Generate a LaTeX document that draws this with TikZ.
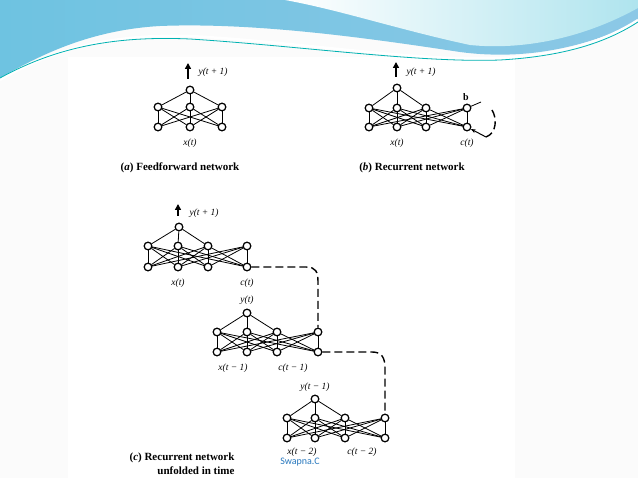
\documentclass[tikz,border=0pt]{standalone}
\usepackage{fontspec}
\setmainfont{Liberation Serif}
\newfontfamily\swfont{Carlito}
\usetikzlibrary{arrows.meta}
\definecolor{skyA}{RGB}{110,195,225}
\definecolor{skyB}{RGB}{140,200,230}
\definecolor{skyC}{RGB}{175,228,238}
\definecolor{swcol}{RGB}{40,120,190}
\tikzset{
  neuron/.style={circle,draw,line width=1.1pt,fill=white,minimum size=7.5pt,inner sep=0pt},
  lab/.style={font=\fontsize{9.5}{10}\selectfont\itshape},
  captext/.style={font=\fontsize{11}{12}\selectfont\bfseries},
  wire/.style={line width=0.8pt},
  fb/.style={line width=1.4pt,dash pattern=on 8pt off 4pt},
  outarrow/.style={line width=1.6pt,shorten <=11pt,-{Triangle[length=6pt,width=6pt]}}
}
\begin{document}
\begin{tikzpicture}[x=1pt,y=-1pt]
\useasboundingbox (0,0) rectangle (638,478);
\fill[gray!3] (0,0) rectangle (638,478);
\fill[white] (68,57) rectangle (515,478);
% header swoosh
\shade[left color=skyA,right color=skyB] (0,0) -- (638,0) -- (638,22) .. controls (580,50) and (520,60) .. (460,52) .. controls (380,40) and (260,22) .. (160,26) .. controls (90,30) and (40,55) .. (0,78) -- cycle;
\shade[left color=white,right color=skyC] (285,0) -- (638,0) -- (638,8) .. controls (580,40) and (520,50) .. (470,45) .. controls (400,30) and (340,10) .. (285,0) -- cycle;
\draw[white,line width=2.5pt] (0,80) .. controls (60,45) and (120,34) .. (190,36) .. controls (300,42) and (420,62) .. (500,58) .. controls (570,54) and (610,38) .. (638,20);
\draw[teal!60!cyan,line width=0.8pt] (0,78) .. controls (60,45) and (120,36) .. (190,39) .. controls (300,46) and (420,63) .. (500,60) .. controls (570,56) and (610,40) .. (638,22);
% (a)
\node[neuron] (at) at (190,90) {};
\foreach \i/\x in {1/158,2/190,3/222}{\node[neuron] (ah\i) at (\x,107) {};\node[neuron] (ai\i) at (\x,127) {};}
\foreach \i in {1,2,3}{\draw[wire] (at)--(ah\i); \foreach \j in {1,2,3}{\draw[wire] (ah\i)--(ai\j);}}
\foreach \i in {1,2,3}{\node[neuron] at (ah\i) {};\node[neuron] at (ai\i) {};}
\node[neuron] at (at) {};
\coordinate (ao) at (188,63);
\draw[outarrow] (at.center -| ao)--(ao);
\node[lab,anchor=west] (ay) at (195,72) {y(t + 1)};
\node[lab] (ax) at (190,143) {x(t)};
\node[captext] (ac) at (180,168) {(\textit{a}) Feedforward network};
% (b)
\node[neuron] (bt) at (397,88) {};
\foreach \i/\x in {1/369,2/397,3/426,4/467}{\node[neuron] (bh\i) at (\x,108) {};\node[neuron] (bi\i) at (\x,127) {};}
\foreach \i in {1,2,3}{\draw[wire] (bt)--(bh\i);}
\foreach \i in {1,...,4}{\foreach \j in {1,...,4}{\draw[wire] (bh\i)--(bi\j);}}
\foreach \i in {1,...,4}{\node[neuron] at (bh\i) {};\node[neuron] at (bi\i) {};}
\node[neuron] at (bt) {};
\coordinate (bo) at (396,62);
\draw[outarrow] (bt.center -| bo)--(bo);
\node[lab,anchor=west] (by) at (403,72) {y(t + 1)};
\node[font=\fontsize{10}{10}\selectfont\bfseries] (bb) at (466,97) {b};
\coordinate (b1) at (481,102);
\draw[wire] (bh4)--(b1);
\coordinate (b2) at (492,110);
\coordinate (b3) at (486,137);
\draw[fb] (b2) .. controls (497,118) and (497,133) .. (b3);
\draw[line width=1pt,-{Stealth[length=5pt]}] (b3) -- (bi4);
\node[lab] (bx) at (397,143) {x(t)};
\node[lab] (bc) at (467,143) {c(t)};
\node[captext] (bcap) at (412,168) {(\textit{b}) Recurrent network};
% (c) net 1
\node[neuron] (pt) at (179,227) {};
\foreach \i/\x in {1/148,2/178,3/208,4/247}{\node[neuron] (ph\i) at (\x,246) {};\node[neuron] (pi\i) at (\x,267) {};}
% net 2
\node[neuron] (qt) at (247,313) {};
\foreach \i/\x in {1/217,2/247,3/277,4/318}{\node[neuron] (qh\i) at (\x,332) {};\node[neuron] (qi\i) at (\x,352) {};}
% net 3
\node[neuron] (rt) at (315,399) {};
\foreach \i/\x in {1/287,2/315,3/345,4/385}{\node[neuron] (rh\i) at (\x,418) {};\node[neuron] (ri\i) at (\x,438) {};}
\foreach \n in {p,q,r}{
  \foreach \i in {1,2,3}{\draw[wire] (\n t)--(\n h\i);}
  \foreach \i in {1,...,4}{\foreach \j in {1,...,4}{\draw[wire] (\n h\i)--(\n i\j);}}
  \foreach \i in {1,...,4}{\node[neuron] at (\n h\i) {};\node[neuron] at (\n i\i) {};}
  \node[neuron] at (\n t) {};
}
\coordinate (po) at (178,204);
\draw[outarrow] (pt.center -| po)--(po);
\node[lab,anchor=west] (py) at (186,213) {y(t + 1)};
\node[lab] (px) at (178,283) {x(t)};
\node[lab] (pc) at (247,283) {c(t)};
\node[lab] (qy) at (247,300) {y(t)};
\node[lab] (qx) at (233,368) {x(t − 1)};
\node[lab] (qc) at (293,368) {c(t − 1)};
\node[lab] (ry) at (315,387) {y(t − 1)};
\node[lab] (rx) at (302,452) {x(t − 2)};
\node[lab] (rc) at (362,452) {c(t − 2)};
\draw[fb] (pi4.east) -- (306,267) .. controls (316,267) and (318,272) .. (318,282) -- (qh4.north);
\draw[fb] (qi4.east) -- (372,352) .. controls (382,352) and (385,358) .. (385,368) -- (rh4.north);
\node[captext,anchor=east] (cc1) at (238,458) {(\textit{c}) Recurrent network};
\node[captext,anchor=east] (cc2) at (238,471) {unfolded in time};
\node[font=\swfont\fontsize{10}{10}\selectfont,text=swcol] (sw) at (300,462) {Swapna.C};
\end{tikzpicture}
\end{document}
